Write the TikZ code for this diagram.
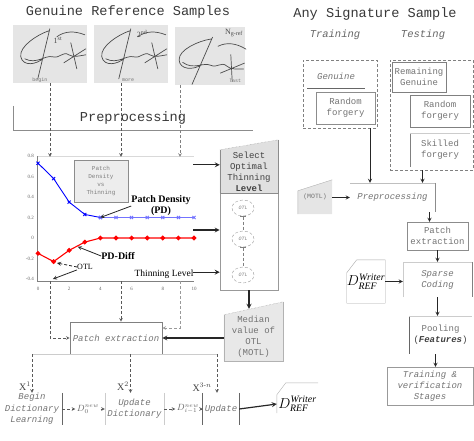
\documentclass[tikz,border=0pt]{standalone}
\usepackage{fontspec}
\setmainfont{Liberation Serif}
\setmonofont{Liberation Mono}
\usepackage{amsmath}
\usetikzlibrary{arrows,positioning,calc,shapes.geometric,backgrounds}

\begin{document}
\begin{tikzpicture}[
    x=1pt, y=-1pt,
    >=stealth,
    every node/.style={inner sep=0pt},
    headline/.style={font=\ttfamily\fontsize{13.6}{15}\selectfont, text=black!78},
    subhead/.style={font=\ttfamily\itshape\fontsize{10.5}{12}\selectfont, text=black!60},
    boxtext/.style={font=\ttfamily\fontsize{9}{11}\selectfont, text=black!55, align=center},
    boxital/.style={boxtext, font=\ttfamily\itshape\fontsize{9}{11}\selectfont},
    tinytext/.style={font=\ttfamily\fontsize{5}{6}\selectfont, text=black!55},
    ticklabel/.style={font=\fontsize{5}{6}\selectfont, text=black!60},
    plotlabel/.style={font=\bfseries\fontsize{10}{11}\selectfont, align=center},
    dictlabel/.style={font=\fontsize{9}{10}\selectfont, text=black!60, inner xsep=1.5pt},
    sigbox/.style={fill=black!10, minimum width=74pt, minimum height=58pt},
    otl/.style={ellipse, draw=black!40, densely dashed, minimum width=22pt, minimum height=16pt,
        font=\ttfamily\itshape\fontsize{5}{6}\selectfont, text=black!50},
    flow/.style={->, line width=1.2pt, black!85},
    thinflow/.style={->, line width=0.8pt, black!85},
    feed/.style={->, densely dashed, line width=0.6pt, black!65},
    scribble/.pic={
        \draw[black!70, line width=0.7pt, line cap=round]
            (36,6) .. controls (24,10) and (6,22) .. (8,32) .. controls (10,42) and (24,40) .. (31,33)
            (37,4) -- (25,54)
            (12,34) .. controls (24,40) and (32,30) .. (40,32) .. controls (47,34) and (50,26) .. (56,30)
                .. controls (61,33) and (66,31) .. (73,30)
            (58,18) -- (64,44)
            (51,38) -- (73,24)
            (44,12) .. controls (52,6) and (62,6) .. (72,10);
    }
]
    \useasboundingbox (0,0) rectangle (474,440);

    % Genuine reference samples
    \node[headline] (titleL) at (128,12) {Genuine Reference Samples};
    \node[sigbox] (sig1) at (50,54) {};
    \node[sigbox] (sig2) at (131,54) {};
    \node[sigbox, minimum width=70pt] (sig3) at (210,56) {};
    \pic at (sig1.north west) {scribble};
    \pic at (sig2.north west) {scribble};
    \pic[rotate=-10] at ([xshift=2pt]sig3.north west) {scribble};
    \node[font=\fontsize{8}{9}\selectfont, text=black!70] (ord1) at (58,40) {1\textsuperscript{st}};
    \node[font=\fontsize{8}{9}\selectfont, text=black!70] (ord2) at (142,34) {2\textsuperscript{nd}};
    \node[font=\fontsize{8}{9}\selectfont, text=black!70] (ord3) at (234,33) {N\textsubscript{g-ref}};
    \node[tinytext] (cap1) at (40,80) {begin};
    \node[tinytext] (cap2) at (128,80) {more};
    \node[tinytext] (cap3) at (235,81) {last};

    \node[headline, minimum width=240pt, minimum height=24pt] (prepL) at (133,118) {Preprocessing};
    \draw[black!45, line width=0.6pt] (prepL.north west) -- (prepL.south west) -- (prepL.south east);

    % Patch density vs thinning level
    \node[minimum width=156pt, minimum height=124pt] (chart) at (115,219) {};
    \begin{scope}[shift={(38,238)}, x=15.6pt, y=102.5pt]
        \draw[black!15] (-0.06,0.8) -- (10,0.8);
        \draw[black!50, line width=0.4pt] (-0.06,0.8) -- (-0.06,-0.42) -- (10,-0.42);
        \foreach \v [count=\i] in {0.8,0.6,0.4,0.2,0,-0.2,-0.4}
            \node[ticklabel, anchor=east] (yt\i) at (-0.25,\v) {\v};
        \foreach \t [count=\i] in {0,2,...,10}
            \node[ticklabel, anchor=north] (xt\i) at (\t,-0.48) {\t};
        \draw[blue, line width=0.9pt] plot[mark=x, mark size=2.2pt]
            coordinates {(0,0.73) (1,0.58) (2,0.35) (3,0.23) (4,0.2)};
        \draw[blue!55, line width=0.9pt] plot[mark=x, mark size=2.2pt]
            coordinates {(4,0.2) (5,0.2) (6,0.2) (7,0.2) (8,0.2) (9,0.2) (10,0.2)};
        \draw[red, line width=1.1pt] plot[mark=*, mark size=1.8pt]
            coordinates {(0,-0.15) (1,-0.23) (2,-0.12) (3,-0.04) (4,0) (5,0) (6,0) (7,0) (8,0) (9,0) (10,0)};
        \coordinate (pdpt) at (4,0.2);
        \coordinate (diffpt) at (2.55,-0.085);
        \coordinate (otlpt) at (1.22,-0.244);
        \coordinate (otlaxis) at (0.96,-0.40);
    \end{scope}
    \node[draw=black!45, fill=black!7, minimum width=54pt, minimum height=42pt,
        font=\ttfamily\fontsize{6}{8}\selectfont, text=black!50, align=center] (inset) at (101,181)
        {Patch\\Density\\vs\\Thinning};
    \node[plotlabel] (pdlab) at (161,206) {Patch Density\\(PD)};
    \node[plotlabel] (difflab) at (118,256) {PD-Diff};
    \node[font=\fontsize{8}{9}\selectfont] (otllab) at (85,267) {OTL};
    \node[font=\fontsize{9.5}{11}\selectfont] (thinlab) at (164,274) {Thinning Level};
    \draw[thinflow] (pdlab.west) -- (pdpt);
    \draw[thinflow] (difflab.west) -- (diffpt);
    \draw[thinflow, densely dashed] (otllab.west) -- (otlpt);
    \draw[thinflow] (otllab.south west) -- (otlaxis);

    % Samples through preprocessing into the chart and on to patch extraction
    \node[boxital, draw=black!50, line width=0.7pt, minimum width=92pt, minimum height=32pt] (patchL) at (116,338) {Patch extraction};
    \draw[feed] (sig1.south) -- (sig1.south |- chart.north);
    \draw[feed] ([xshift=-10pt]sig2.south) -- ([xshift=-10pt]sig2.south |- chart.north);
    \draw[feed, black!50] ([xshift=-30pt]sig3.south) -- ([xshift=-30pt]sig3.south |- chart.north);
    \draw[feed] (sig1.south |- chart.south) |- (patchL.west);
    \draw[feed] ([xshift=-10pt]sig2.south |- chart.south) -- ([xshift=-10pt]sig2.south |- patchL.north);
    \draw[feed, black!40] ([xshift=-30pt]sig3.south |- chart.south) |- ([yshift=10pt]patchL.east);

    % Optimal thinning level selection
    \node[minimum width=58pt, minimum height=53pt] (selotl) at (249,166.5) {};
    \node[boxtext, text=black!75] (seltext) at (249,171.5) {Select\\Optimal\\Thinning\\\textbf{Level}};
    \node[draw=black!40, line width=0.6pt, minimum width=58pt, minimum height=97pt] (otlbox) at (249,241.5) {};
    \node[otl] (otl1) at (243,208) {OTL};
    \node[otl] (otl2) at (243,239) {OTL};
    \node[otl] (otl3) at (243,275) {OTL};
    \draw[densely dashed, black!50, |-] (otl1.south) -- (otl2.north);
    \draw[densely dashed, black!50, |-] (otl2.south) -- (otl3.north);
    \node[minimum width=59pt, minimum height=59pt] (motl) at (253.5,331.5) {};
    \node[boxtext] (motltext) at (253.5,337) {Median\\value of\\OTL\\(MOTL)};
    \begin{scope}[on background layer]
        \fill[black!12] (selotl.south west) -- (selotl.south east) -- (selotl.north east)
            -- ([yshift=-10pt]selotl.north west) -- cycle;
        \fill[black!9] (motl.south west) -- (motl.south east) -- (motl.north east)
            -- ([yshift=-13pt]motl.north west) -- cycle;
    \end{scope}
    \draw[black!45, line width=0.6pt] ([yshift=-10pt]selotl.north west) -- (selotl.south west)
        -- (selotl.south east) -- (selotl.north east);
    \draw[black!45, densely dotted] (selotl.north east) -- ([yshift=-10pt]selotl.north west);
    \draw[black!30, line width=0.6pt] ([yshift=-13pt]motl.north west) -- (motl.south west)
        -- (motl.south east) -- (motl.north east);
    \draw[black!45, densely dotted] (motl.north east) -- ([yshift=-13pt]motl.north west);

    \draw[flow] ([yshift=-8pt]chart.north east) -- ([yshift=-8pt]chart.north east -| selotl.west);
    \draw[flow] ([yshift=-11pt]chart.east) -- ([yshift=-11pt]chart.east -| otlbox.west);
    \draw[flow] ([yshift=9pt]chart.south east) -- ([yshift=9pt]chart.south east -| otlbox.west);
    \draw[flow] (otlbox.south) -- ([yshift=-7pt]motl.north -| otlbox.south);
    \draw[flow] (patchL.east -| motl.west) -- (patchL.east);

    % Dictionary learning
    \node[boxital, minimum width=60pt, minimum height=32pt, font=\ttfamily\itshape\fontsize{9}{11.5}\selectfont] (begin) at (32,409) {Begin\\Dictionary\\Learning};
    \node[dictlabel] (d0) at (88,409) {$D_{0}^{new}$};
    \node[boxital, minimum width=59pt, minimum height=32pt] (upd1) at (134.5,409) {Update\\Dictionary};
    \node[dictlabel] (di) at (188,409) {$D_{i-1}^{new}$};
    \node[boxital, minimum width=36pt, minimum height=32pt] (upd2) at (221,409) {Update};
    \node[minimum width=41pt, minimum height=42pt, font=\fontsize{14}{16}\selectfont] (drefL) at (297.5,404) {$D^{\mathit{Writer}}_{\mathit{REF}}$};
    \draw[black!60, line width=0.7pt] (begin.north east) -- (begin.south east);
    \draw[black!20] (upd1.north west) -- (upd1.south west) (upd1.north east) -- (upd1.south east);
    \draw[black!60, line width=0.7pt] (upd2.north west) -- (upd2.south west) (upd2.north east) -- (upd2.south east);
    \draw[black!30] ([yshift=12pt]drefL.south west) -- ([yshift=-12pt]drefL.north west)
        -- ([xshift=9pt]drefL.north west) -- (drefL.north east);

    \draw[black!20] (begin.north |- patchL.south) -- ([xshift=-4pt]upd2.north |- patchL.south);
    \draw[feed] (begin.north |- patchL.south) -- (begin.north);
    \draw[feed] ([xshift=-4pt]upd1.north |- patchL.south) -- ([xshift=-4pt]upd1.north);
    \draw[feed] ([xshift=-4pt]upd2.north |- patchL.south) -- ([xshift=-4pt]upd2.north);
    \node[font=\fontsize{10}{11}\selectfont, text=black!75] (x1) at (25,386) {X$^{1}$};
    \node[font=\fontsize{10}{11}\selectfont, text=black!75] (x2) at (123,386) {X$^{2}$};
    \node[font=\fontsize{10}{11}\selectfont, text=black!75] (x3) at (202,387) {X$^{3\text{-}n}$};

    \draw[feed] (begin.east) -- (d0.west);
    \draw[feed] (d0.east) -- (upd1.west);
    \draw[feed] (upd1.east) -- (di.west);
    \draw[feed] (di.east) -- (upd2.west);
    \draw[flow] (upd2.east) -- (drefL.west);

    % Any signature sample
    \node[headline] (titleR) at (375,14) {Any Signature Sample};
    \node[subhead] (trainhd) at (335,35) {Training};
    \node[subhead] (testhd) at (423,35) {Testing};
    \node[draw=black!50, densely dashed, minimum width=74pt, minimum height=68pt] (trainbox) at (340,94) {};
    \node[boxital] (genT) at (336,76) {Genuine};
    \draw[black!60, line width=0.7pt] (307,88) -- (365,88);
    \node[boxtext, draw=black!45, minimum width=59pt, minimum height=32pt] (rndT) at (345.5,108) {Random\\forgery};
    \node[draw=black!50, densely dashed, minimum width=83pt, minimum height=110pt] (testbox) at (431.5,115) {};
    \node[boxtext, draw=black!50, minimum width=54pt, minimum height=30pt] (remG) at (419,77) {Remaining\\Genuine};
    \node[boxtext, draw=black!50, minimum width=60pt, minimum height=32pt] (rndS) at (440,111) {Random\\forgery};
    \node[boxtext, minimum width=60pt, minimum height=34pt] (skl) at (440,150) {Skilled\\forgery};
    \draw[black!50] (skl.north west) -- (skl.south west);
    \draw[black!20] (skl.north west) -- (skl.north east);

    \node[boxital, minimum width=85pt, minimum height=29pt] (prepR) at (392.5,197.5) {Preprocessing};
    \draw[black!25] (prepR.north west) -- (prepR.north east);
    \draw[black!45] (prepR.north east) -- (prepR.south east);
    \node[boxtext, minimum width=34pt, minimum height=34pt, font=\ttfamily\fontsize{6.5}{8}\selectfont] (motlR) at (315,197) {(MOTL)};
    \begin{scope}[on background layer]
        \fill[black!10] (motlR.south west) -- (motlR.south east) -- (motlR.north east)
            -- ([yshift=-11pt]motlR.north west) -- cycle;
    \end{scope}
    \draw[black!30] (motlR.south west) -- ([yshift=-11pt]motlR.north west) -- (motlR.north east);

    \node[boxtext, draw=black!45, minimum width=61pt, minimum height=28pt] (patchR) at (437.5,236) {Patch\\extraction};
    \node[minimum width=38pt, minimum height=43pt, font=\fontsize{14}{16}\selectfont] (drefR) at (366,281.5) {$D^{\mathit{Writer}}_{\mathit{REF}}$};
    \draw[black!35] (drefR.south west) -- ([yshift=-13pt]drefR.north west) -- ([xshift=10pt]drefR.north west)
        -- (drefR.north east) -- (drefR.south east) -- cycle;
    \node[boxital, minimum width=69pt, minimum height=35pt] (sparse) at (437.5,279.5) {Sparse\\Coding};
    \draw[black!20] (sparse.south west) -- (sparse.north west) -- (sparse.north east);
    \draw[black!50] (sparse.north east) -- (sparse.south east);
    \node[boxtext, minimum width=63pt, minimum height=38pt] (pool) at (440.5,335) {Pooling\\{\color{black!75}(\textbf{\textit{Features}})}};
    \draw[black!60, line width=0.6pt] (pool.north west) -- (pool.south west);
    \draw[black!20] (pool.north west) -- (pool.north east);
    \node[boxital, draw=black!40, minimum width=86pt, minimum height=38pt] (trainver) at (430,386) {Training \&\\verification\\Stages};

    \draw[thinflow] ([xshift=30pt]trainbox.south) -- ([xshift=30pt]trainbox.south |- prepR.north);
    \draw[thinflow] ([xshift=-9pt]testbox.south) -- ([xshift=-9pt]testbox.south |- prepR.north);
    \draw[thinflow] (motlR.east |- prepR.west) -- (prepR.west);
    \draw[thinflow] ([xshift=-8pt]patchR.north |- prepR.south) -- ([xshift=-8pt]patchR.north);
    \draw[thinflow] (patchR.south) -- (patchR.south |- sparse.north);
    \draw[thinflow] (drefR.east) -- (drefR.east -| sparse.west);
    \draw[thinflow] (sparse.south) -- (sparse.south |- pool.north);
    \draw[thinflow] ([xshift=-5pt]pool.south) -- ([xshift=-5pt]pool.south |- trainver.north);
\end{tikzpicture}
\end{document}
